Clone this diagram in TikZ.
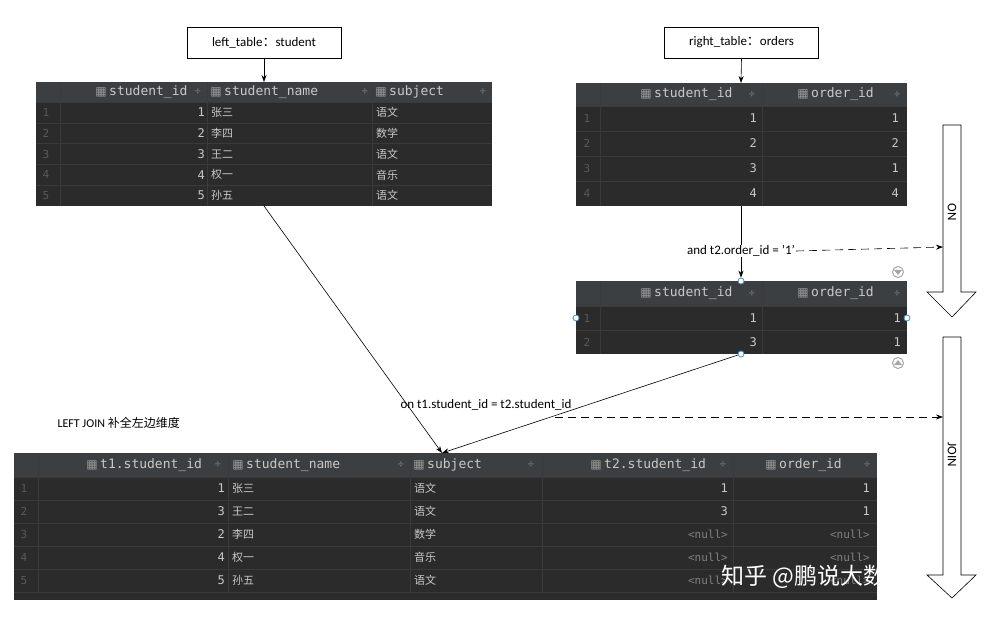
\documentclass[tikz,border=0pt]{standalone}
\usepackage{fontspec}
\setmainfont{Carlito}
\newfontfamily\mono{DejaVu Sans Mono}
\newfontfamily\djv{DejaVu Sans}
\newfontfamily\cjk{Noto Sans CJK SC}
\usetikzlibrary{arrows.meta}
\definecolor{tbg}{HTML}{2B2B2B}
\definecolor{hbg}{HTML}{3C3F41}
\definecolor{gline}{HTML}{3A3A3A}
\definecolor{tfg}{HTML}{C8C8C8}
\definecolor{rnum}{HTML}{5A5A5A}
\definecolor{hdl}{HTML}{4A90C8}
\tikzset{
 gl/.style={draw=gline,line width=0.8pt},
 rn/.style={text=rnum,font=\mono\fontsize{11}{11}\selectfont,inner sep=0},
 num/.style={text=tfg,font=\mono\fontsize{12}{12}\selectfont,inner sep=0,anchor=east},
 zh/.style={text=tfg,font=\cjk\fontsize{11}{11}\selectfont,inner sep=0,anchor=west},
 nul/.style={text=gray,font=\mono\fontsize{11}{11}\selectfont,inner sep=0,anchor=east},
 htx/.style={text=tfg,font=\mono\fontsize{13}{13}\selectfont,inner sep=0,anchor=west},
 hic/.style={text=gray!80,font=\djv\fontsize{12}{12}\selectfont,inner sep=0},
 srt/.style={text=gray,font=\mono\fontsize{10}{10}\selectfont,inner sep=0},
 lbox/.style={draw=black,line width=0.6pt,fill=white,minimum width=154pt,minimum height=31pt,font=\fontsize{13}{13}\selectfont},
 lab/.style={font=\fontsize{13}{13}\selectfont,inner sep=1pt},
 arr/.style={-{Stealth[length=7pt,width=5pt]},line width=0.6pt},
 darr/.style={arr,dash pattern=on 8pt off 5pt},
 hollow/.style={draw=black,line width=0.6pt,fill=white},
 hnd/.style={circle,draw=hdl,fill=white,line width=0.8pt,inner sep=0,minimum size=6pt},
 ico/.style={circle,draw=gray!70,line width=1pt,inner sep=0,minimum size=11pt},
}
\newcommand\hcol[4]{\node[hic] at (#1,#4) {▦}; \node[htx] at (#1+8,#4) {#2}; \node[srt] at (#3,#4) {÷};}
\begin{document}
\begin{tikzpicture}[x=1pt,y=-1pt]
\useasboundingbox[fill=white] (0,0) rectangle (993,620);
% boxes
\node[lbox] (lt) at (264,42.5) {left\_table{\cjk ：}student};
\node[lbox] (rt) at (741.5,42.5) {right\_table{\cjk ：}orders};
% table 1
\fill[tbg] (36,82) rectangle (492,206);
\fill[hbg] (36,82) rectangle (492,102);
\foreach \y in {102,123,143,164,185} \draw[gl] (36,\y)--(492,\y);
\foreach \x in {60,207,372} \draw[gl] (\x,82)--(\x,206);
\hcol{101}{student\_id}{198}{92}
\hcol{216}{student\_name}{365}{92}
\hcol{381}{subject}{483}{92}
\foreach \v/\n/\s [count=\i] in {1/张三/语文,2/李四/数学,3/王二/语文,4/权一/音乐,5/孙五/语文}{
 \pgfmathsetmacro\yy{102+20.8*(\i-0.5)}
 \node[rn] at (46,\yy) {\i};
 \node[num] at (205,\yy) {\v};
 \node[zh] at (211,\yy) {\n};
 \node[zh] at (376,\yy) {\s};}
\coordinate (t1b) at (264,206);
\coordinate (t1t) at (264,82);
% table 2
\fill[tbg] (576,83) rectangle (907,206);
\fill[hbg] (576,83) rectangle (907,106);
\foreach \y in {106,131,156,181} \draw[gl] (576,\y)--(907,\y);
\foreach \x in {600,762} \draw[gl] (\x,83)--(\x,206);
\hcol{646}{student\_id}{752}{94.5}
\hcol{803}{order\_id}{897}{94.5}
\foreach \a/\b [count=\i] in {1/1,2/2,3/1,4/4}{
 \pgfmathsetmacro\yy{106+25*(\i-0.5)}
 \node[rn] at (587,\yy) {\i};
 \node[num] at (757,\yy) {\a};
 \node[num] at (899,\yy) {\b};}
\coordinate (t2t) at (741,83);
\coordinate (t2b) at (741,206);
% table 3
\fill[tbg] (576,281) rectangle (907,354);
\fill[hbg] (576,281) rectangle (907,306);
\foreach \y in {306,330} \draw[gl] (576,\y)--(907,\y);
\foreach \x in {600,762} \draw[gl] (\x,281)--(\x,354);
\hcol{646}{student\_id}{752}{293.5}
\hcol{803}{order\_id}{897}{293.5}
\foreach \a/\b [count=\i] in {1/1,3/1}{
 \pgfmathsetmacro\yy{306+24*(\i-0.5)}
 \node[rn] at (587,\yy) {\i};
 \node[num] at (757,\yy) {\a};
 \node[num] at (901,\yy) {\b};}
\node[hnd] (t3t) at (741,281) {};
\node[hnd] (t3b) at (741,354) {};
\node[hnd] (t3l) at (576,318) {};
\node[hnd] (t3r) at (907,318) {};
\node[ico] (i1) at (898,272) {};
\fill[gray!70] (894,270)--(902,270)--(898,275)--cycle;
\node[ico] (i2) at (898,363) {};
\fill[gray!70] (894,365)--(902,365)--(898,360)--cycle;
% table 4
\fill[tbg] (14,453) rectangle (877,600);
\fill[hbg] (14,453) rectangle (877,477);
\foreach \y in {477,500,523,546,569,592} \draw[gl] (14,\y)--(877,\y);
\foreach \x in {38,228,410,542,733} \draw[gl] (\x,453)--(\x,592);
\hcol{92}{t1.student\_id}{218}{465}
\hcol{238}{student\_name}{401}{465}
\hcol{419}{subject}{531}{465}
\hcol{596}{t2.student\_id}{723}{465}
\hcol{771}{order\_id}{867}{465}
\foreach \v/\n/\s/\c/\d [count=\i] in {1/张三/语文/1/1,3/王二/语文/3/1,2/李四/数学/N/N,4/权一/音乐/N/N,5/孙五/语文/N/N}{
 \pgfmathsetmacro\yy{477+23*(\i-0.5)}
 \node[rn] at (24,\yy) {\i};
 \node[num] at (225,\yy) {\v};
 \node[zh] at (232,\yy) {\n};
 \node[zh] at (414,\yy) {\s};
 \if\c N
  \node[nul] at (728,\yy) {<null>};
  \node[nul] at (870,\yy) {<null>};
 \else
  \node[num] at (728,\yy) {\c};
  \node[num] at (870,\yy) {\d};
 \fi}
\coordinate (t4t) at (442,453);
% connectors
\draw[arr] (lt.south) -- (t1t);
\draw[arr] (rt.south) -- (t2t);
\draw[arr] (t2b) -- (t3t.north);
\node[lab,fill=white] (l1) at (741,251) {and t2.order\_id = '1'};
\draw[arr] (t1b) -- (t4t);
\draw[arr] (t3b) -- (t4t);
\node[lab] (l2) at (486,405) {on t1.student\_id = t2.student\_id};
\coordinate (d1) at (943,247);
\coordinate (d2) at (943,417);
\draw[darr] (l1.east) -- (d1);
\draw[darr] (555,417) -- (d2);
% big arrows
\draw[hollow] (943,125)--(961,125)--(961,292)--(976,292)--(952,317)--(927,292)--(943,292)--cycle;
\node[lab,rotate=-90] (on) at (952,212) {ON};
\draw[hollow] (943,337)--(961,337)--(961,575)--(976,575)--(952,598)--(927,575)--(943,575)--cycle;
\node[lab,rotate=-90] (jn) at (952,455) {JOIN};
\node[font=\fontsize{12}{12}\selectfont,anchor=west] (lj) at (54,423) {LEFT JOIN {\cjk 补全左边维度}};
\node[text=white,font=\cjk\fontsize{23}{23}\selectfont,anchor=west] (wm) at (718,577) {知乎 @鹏说大数据};
\end{tikzpicture}
\end{document}
